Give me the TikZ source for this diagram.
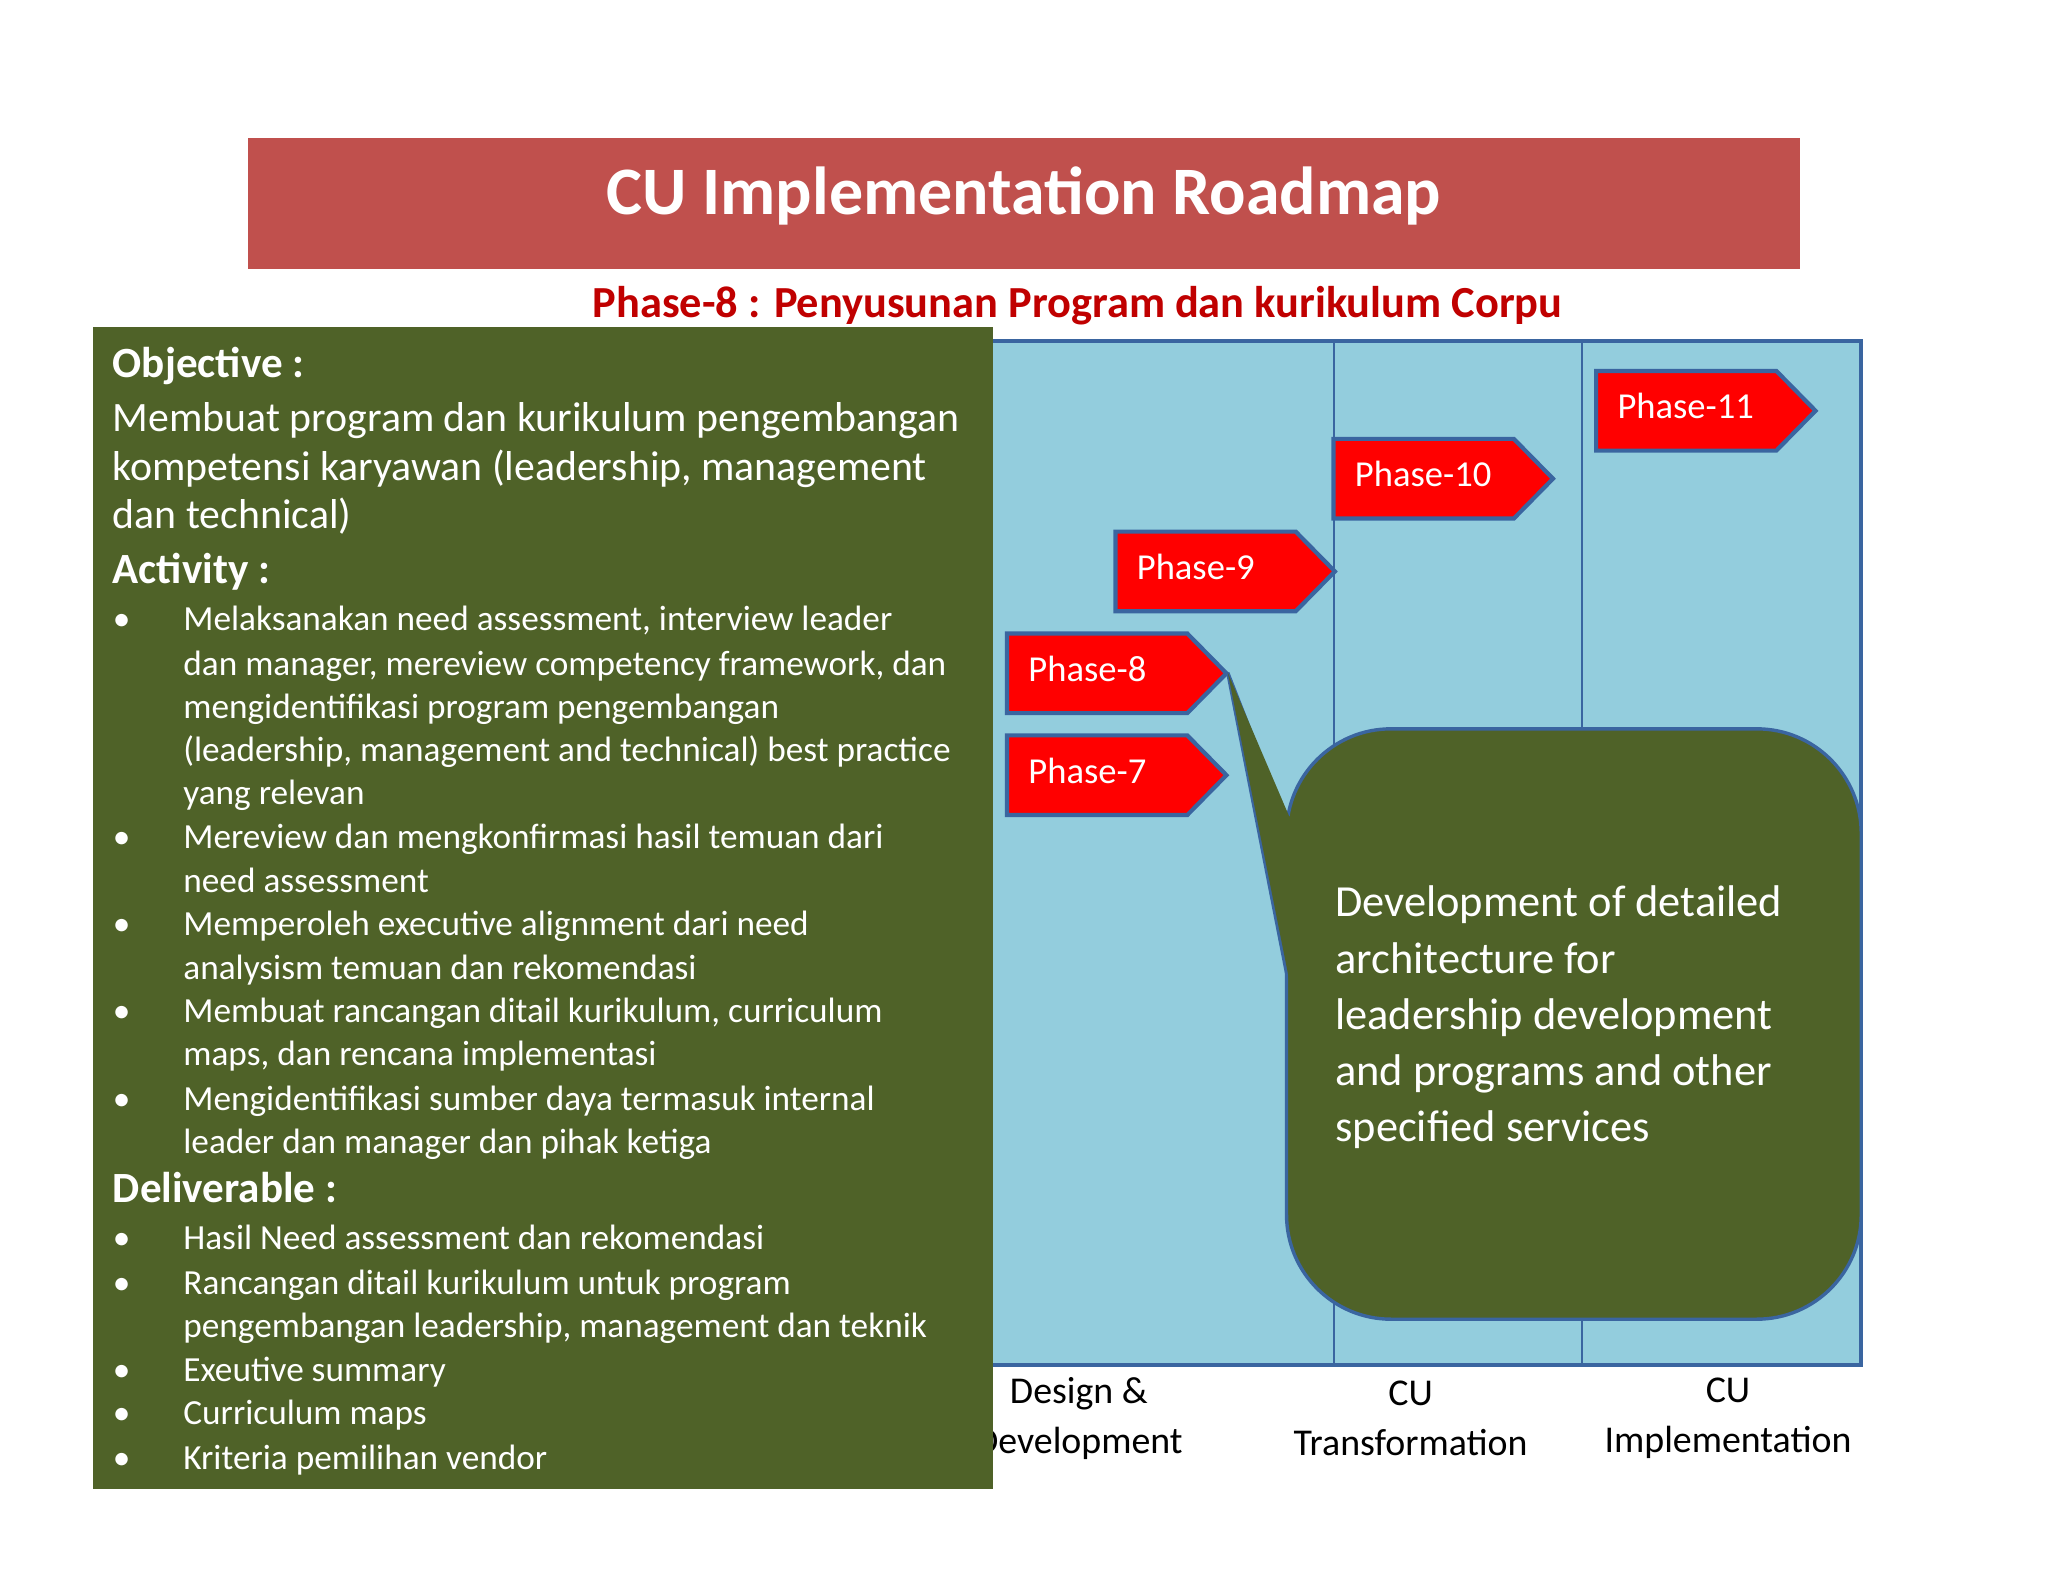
\documentclass[tikz,border=0pt]{standalone}
\usepackage{fontspec}
\setmainfont{Carlito}
\definecolor{titred}{HTML}{C0504D}
\definecolor{subred}{HTML}{C00000}
\definecolor{olive}{HTML}{4F6228}
\definecolor{skyb}{HTML}{93CDDD}
\definecolor{edgeb}{HTML}{3A65A0}
\tikzset{
 phasebox/.style={fill=red,draw=edgeb,line width=1.6pt,line join=miter},
 phaselbl/.style={text=white,font=\fontsize{14}{16}\selectfont,anchor=west,inner sep=0},
 gline/.style={text=white,anchor=base west,inner sep=0,font=\fontsize{13.5}{16}\selectfont},
 bline/.style={text=white,anchor=base west,inner sep=0,font=\fontsize{16}{19}\selectfont},
 hline/.style={text=white,anchor=base west,inner sep=0,font=\bfseries\fontsize{16.5}{19}\selectfont},
}
\begin{document}
\begin{tikzpicture}[x=0.5pt,y=-0.5pt]
\useasboundingbox[fill=white] (0,0) rectangle (1568,1210);
% title
\fill[titred] (190,106) rectangle (1378,206);
\node[text=white,font=\bfseries\fontsize{26}{30}\selectfont] (title) at (784,150) {CU Implementation Roadmap};
\node[text=subred,font=\bfseries\fontsize{17}{20}\selectfont] (sub) at (825,234) {Phase-8 : Penyusunan Program dan kurikulum Corpu};
% blue region
\fill[skyb] (740,261) rectangle (1425,1045);
\draw[edgeb,line width=1.5pt] (740,261) -- (1425,261) -- (1425,1045) -- (740,1045);
\draw[edgeb,line width=0.8pt] (1021,261) -- (1021,1045) (1211,261) -- (1211,1045);
% bottom labels
\node[align=center,font=\fontsize{14.5}{19}\selectfont] (dd) at (826,1086) {Design \&\\Development};
\node[align=center,font=\fontsize{14.5}{19}\selectfont] (ct) at (1080,1086) {CU\\Transformation};
\node[align=center,font=\fontsize{14.5}{19}\selectfont] (ci) at (1323,1086) {CU\\Implementation};
% green box
\fill[olive] (71,250) rectangle (760,1140);
\node[hline] (obj) at (86,289) {Objective :};
\foreach \y/\t [count=\i] in {330/Membuat program dan kurikulum pengembangan,368/{kompetensi karyawan (leadership, management},405/dan technical)}
  \node[bline] (o\i) at (86,\y) {\t};
\node[hline] (act) at (86,447) {Activity :};
\foreach \y/\t [count=\i] in {
 483/Melaksanakan need assessment{,} interview leader,
 517/dan manager{,} mereview competency framework{,} dan,
 550/mengidentifikasi program pengembangan,
 583/(leadership{,} management and technical) best practice,
 616/yang relevan,
 650/Mereview dan mengkonfirmasi hasil temuan dari,
 683/need assessment,
 716/Memperoleh executive alignment dari need,
 750/analysism temuan dan rekomendasi,
 783/Membuat rancangan ditail kurikulum{,} curriculum,
 816/maps{,} dan rencana implementasi,
 850/Mengidentifikasi sumber daya termasuk internal,
 883/leader dan manager dan pihak ketiga}
  \node[gline] (a\i) at (140,\y) {\t};
\foreach \y [count=\i] in {483,650,716,783,850}
  \node[gline] (ab\i) at (86,\y) {•};
\node[hline] (del) at (86,921) {Deliverable :};
\foreach \y/\t [count=\i] in {
 957/Hasil Need assessment dan rekomendasi,
 991/Rancangan ditail kurikulum untuk program,
 1024/pengembangan leadership{,} management dan teknik,
 1058/Exeutive summary,
 1091/Curriculum maps,
 1125/Kriteria pemilihan vendor}
  \node[gline] (d\i) at (140,\y) {\t};
\foreach \y [count=\i] in {957,991,1058,1091,1125}
  \node[gline] (db\i) at (86,\y) {•};
% phase arrows
\foreach \x/\y/\t [count=\i] in {1222/284/Phase-11,1021/336/Phase-10,854/407/Phase-9,771/485/Phase-8,771/563/Phase-7}{
  \draw[phasebox] (\x,\y) -- ++(138,0) -- ++(30,30.5) -- ++(-30,30.5) -- ++(-138,0) -- cycle;
  \node[phaselbl] (p\i) at (\x+16,\y+27) {\t};
}
% callout
\draw[fill=olive,draw=edgeb,line width=1.3pt,rounded corners=40pt] (985,558) rectangle (1425,1010);
\draw[fill=olive,draw=edgeb,line width=1.3pt,line join=miter] (985,745) -- (940,515) -- (985,630);
\fill[olive] (940,515) -- (987,625) -- (992,625) -- (992,750) -- (987,750) -- cycle;
\node[text=white,align=left,anchor=north west,inner sep=0,font=\fontsize{17}{21.5}\selectfont] (ct) at (1022,678) {Development of detailed\\architecture for\\leadership development\\and programs and other\\specified services};
\end{tikzpicture}
\end{document}
